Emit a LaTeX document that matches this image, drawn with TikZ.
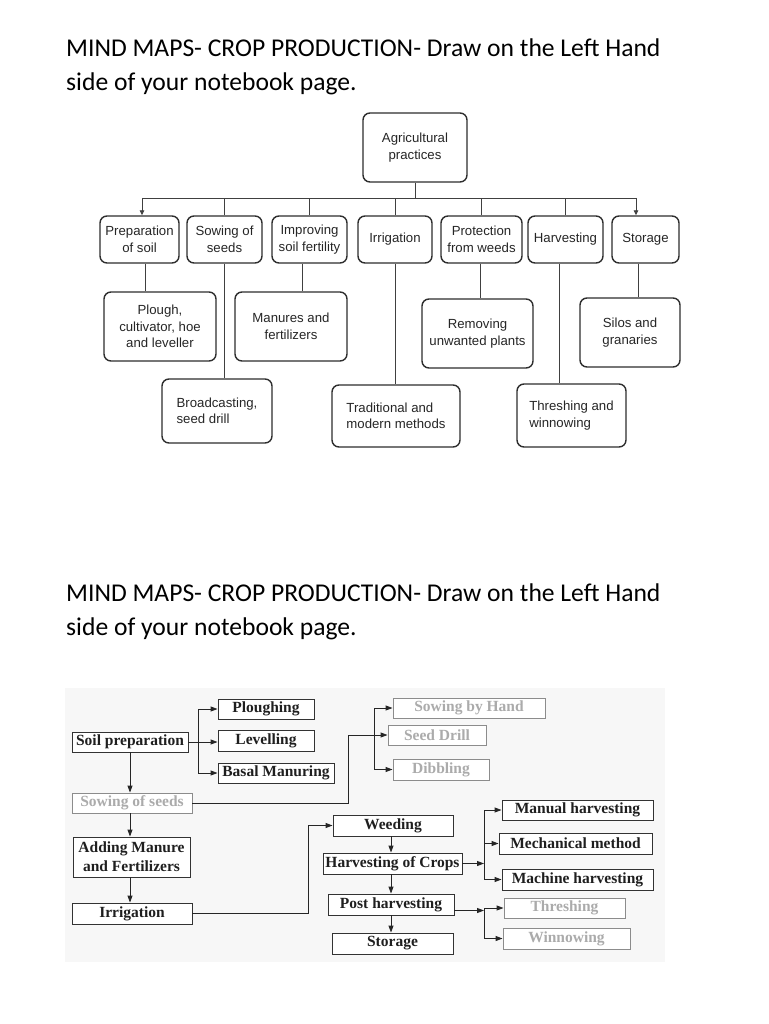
\documentclass[tikz,border=0pt]{standalone}
\usepackage{fontspec}
\setmainfont{Liberation Serif}
\newfontfamily\titlefont{Carlito}
\newfontfamily\arialfont{Liberation Sans}
\usetikzlibrary{arrows.meta}
\begin{document}
\begin{tikzpicture}[x=1pt,y=-1pt,
  title/.style={anchor=base west, inner sep=0, font=\titlefont\fontsize{25.6}{30}\selectfont, text=black},
  tbox/.style={draw=black!82, line width=1.4pt, rounded corners=7pt, fill=white, text=black!85, font=\arialfont\fontsize{13.2}{16.5}\selectfont, align=center, inner sep=0},
  tline/.style={draw=black!75, line width=0.9pt},
  tarrow/.style={tline, -{Triangle[length=5pt,width=4.5pt]}},
  bbox/.style={draw=black!80, line width=0.9pt, fill=white, font=\bfseries\fontsize{15.5}{19}\selectfont, text=black!88, inner sep=0, align=center},
  gbox/.style={bbox, draw=black!45, text=black!33},
  bline/.style={draw=black!85, line width=0.9pt},
  barrow/.style={bline, -{Triangle[length=7pt,width=5pt]}},
]
\useasboundingbox (0,0) rectangle (768,1024);
\fill[white] (0,0) rectangle (768,1024);

% titles
\node[title] (t1) at (66,57) {MIND MAPS- CROP PRODUCTION- Draw on the Left Hand};
\node[title] (t2) at (66,91) {side of your notebook page.};
\node[title] (t3) at (66,601) {MIND MAPS- CROP PRODUCTION- Draw on the Left Hand};
\node[title] (t4) at (66,635) {side of your notebook page.};

% ---------- top mind map ----------
\node[tbox, minimum width=104pt, minimum height=69pt] (root) at (415,147.5) {Agricultural\\practices};

\node[tbox, minimum width=79pt, minimum height=47pt] (prep) at (139.5,239.5) {Preparation\\of soil};
\node[tbox, minimum width=75pt, minimum height=47pt] (sow) at (224.5,239.5) {Sowing of\\seeds};
\node[tbox, minimum width=75pt, minimum height=47pt] (imp) at (309.5,239.5) {Improving\\soil fertility};
\node[tbox, minimum width=74pt, minimum height=47pt] (irr) at (395,239.5) {Irrigation};
\node[tbox, minimum width=81pt, minimum height=47pt] (prot) at (481.5,239.5) {Protection\\from weeds};
\node[tbox, minimum width=75pt, minimum height=47pt] (harv) at (565.5,239.5) {Harvesting};
\node[tbox, minimum width=67pt, minimum height=47pt] (stor) at (645.5,239.5) {Storage};

\node[tbox, minimum width=112pt, minimum height=69pt] (plough) at (160,326.5) {Plough,\\cultivator, hoe\\and leveller};
\node[tbox, minimum width=112pt, minimum height=69pt] (manure) at (291,326.5) {Manures and\\fertilizers};
\node[tbox, minimum width=110pt, minimum height=64pt, align=left] (broad) at (217,411) {Broadcasting,\\seed drill};
\node[tbox, minimum width=128pt, minimum height=62pt, align=left] (trad) at (396,416) {Traditional and\\modern methods};
\node[tbox, minimum width=111pt, minimum height=69pt] (rem) at (477.5,333.5) {Removing\\unwanted plants};
\node[tbox, minimum width=109pt, minimum height=63pt, align=left] (thr) at (571.5,415.5) {Threshing and\\winnowing};
\node[tbox, minimum width=100pt, minimum height=69pt] (silo) at (630,332.5) {Silos and\\granaries};

\coordinate (busL) at (142,198);
\coordinate (busR) at (636,198);
\draw[tline] (root.south) -- (root.south |- busL);
\draw[tline] (busL) -- (busR);
\draw[tarrow] (busL) -- (prep.north -| busL);
\draw[tarrow] (busR) -- (stor.north -| busR);
\foreach \n in {sow,imp,irr,prot,harv} \draw[tline] (\n.north) -- (\n.north |- busL);

\coordinate (s1) at (145,0);
\coordinate (s3) at (302,0);
\coordinate (s5) at (480,0);
\coordinate (s6) at (559,0);
\coordinate (s7) at (638,0);
\draw[tline] (prep.south -| s1) -- (plough.north -| s1);
\draw[tline] (sow.south) -- (broad.north -| sow.south);
\draw[tline] (imp.south -| s3) -- (manure.north -| s3);
\draw[tline] (irr.south) -- (trad.north -| irr.south);
\draw[tline] (prot.south -| s5) -- (rem.north -| s5);
\draw[tline] (harv.south -| s6) -- (thr.north -| s6);
\draw[tline] (stor.south -| s7) -- (silo.north -| s7);

% ---------- bottom mind map ----------
\fill[black!3] (65,688) rectangle (665,962);

\node[bbox, minimum width=116pt, minimum height=20pt] (soil) at (130,742) {Soil preparation};
\node[bbox, minimum width=96pt, minimum height=20pt] (plo) at (266,709) {Ploughing};
\node[bbox, minimum width=96pt, minimum height=21pt] (lev) at (266,740.5) {Levelling};
\node[bbox, minimum width=116pt, minimum height=20pt] (bas) at (276,773) {Basal Manuring};
\node[gbox, minimum width=120pt, minimum height=20pt] (sows) at (132,803) {Sowing of seeds};
\node[gbox, minimum width=152pt, minimum height=20pt] (hand) at (469,708) {Sowing by Hand};
\node[gbox, minimum width=98pt, minimum height=20pt] (drill) at (437,735) {Seed Drill};
\node[gbox, minimum width=96pt, minimum height=21pt] (dib) at (441,769.5) {Dibbling};
\node[bbox, minimum width=117pt, minimum height=40pt] (add) at (131.5,857) {Adding Manure\\and Fertilizers};
\node[bbox, minimum width=120pt, minimum height=21pt] (irrb) at (132,913.5) {Irrigation};
\node[bbox, minimum width=120pt, minimum height=21pt] (weed) at (393,825.5) {Weeding};
\node[bbox, minimum width=139pt, minimum height=21pt] (hoc) at (392.5,863.5) {Harvesting of Crops};
\node[bbox, minimum width=126pt, minimum height=21pt] (post) at (391,904.5) {Post harvesting};
\node[bbox, minimum width=121pt, minimum height=21pt] (stob) at (392.5,943.5) {Storage};
\node[bbox, minimum width=151pt, minimum height=20pt] (manh) at (577.5,810) {Manual harvesting};
\node[bbox, minimum width=153pt, minimum height=21pt] (mech) at (575.5,843.5) {Mechanical method};
\node[bbox, minimum width=151pt, minimum height=21pt] (mach) at (577.5,879.5) {Machine harvesting};
\node[gbox, minimum width=121pt, minimum height=20pt] (thb) at (564.5,908) {Threshing};
\node[gbox, minimum width=127pt, minimum height=21pt] (win) at (566.5,938.5) {Winnowing};

\coordinate (j1) at (198,0);
\draw[barrow] (soil.east) -- (lev.west |- soil.east);
\draw[barrow] (soil.east -| j1) |- (plo.west);
\draw[barrow] (soil.east -| j1) |- (bas.west);

\draw[barrow] (soil.south) -- (soil.south |- sows.north);
\draw[barrow] (sows.south -| soil.south) -- (soil.south |- add.north);
\draw[barrow] (add.south -| soil.south) -- (soil.south |- irrb.north);

\coordinate (k1) at (348,0);
\coordinate (k2) at (374,0);
\draw[barrow] (sows.east) -| (k1 |- drill.west) -- (drill.west);
\draw[barrow] (drill.west -| k2) |- (hand.west);
\draw[barrow] (drill.west -| k2) |- (dib.west);

\coordinate (k3) at (308,0);
\draw[barrow] (irrb.east) -| (k3 |- weed.west) -- (weed.west);

\coordinate (k4) at (391,0);
\draw[barrow] (weed.south -| k4) -- (hoc.north -| k4);
\draw[barrow] (hoc.south -| k4) -- (post.north -| k4);
\draw[barrow] (post.south -| k4) -- (stob.north -| k4);

\coordinate (k5) at (484,0);
\draw[barrow] (hoc.east) -- (hoc.east -| k5);
\draw[bline] (manh.west -| k5) -- (mach.west -| k5);
\draw[barrow] (manh.west -| k5) -- (manh.west);
\draw[barrow] (mech.west -| k5) -- (mech.west);
\draw[barrow] (mach.west -| k5) -- (mach.west);

\coordinate (pe) at ([yshift=-6pt]post.east);
\draw[barrow] (pe) -- (pe -| k5);
\draw[bline] (thb.west -| k5) -- (win.west -| k5);
\draw[barrow] (thb.west -| k5) -- (thb.west);
\draw[barrow] (win.west -| k5) -- (win.west);
\end{tikzpicture}
\end{document}
